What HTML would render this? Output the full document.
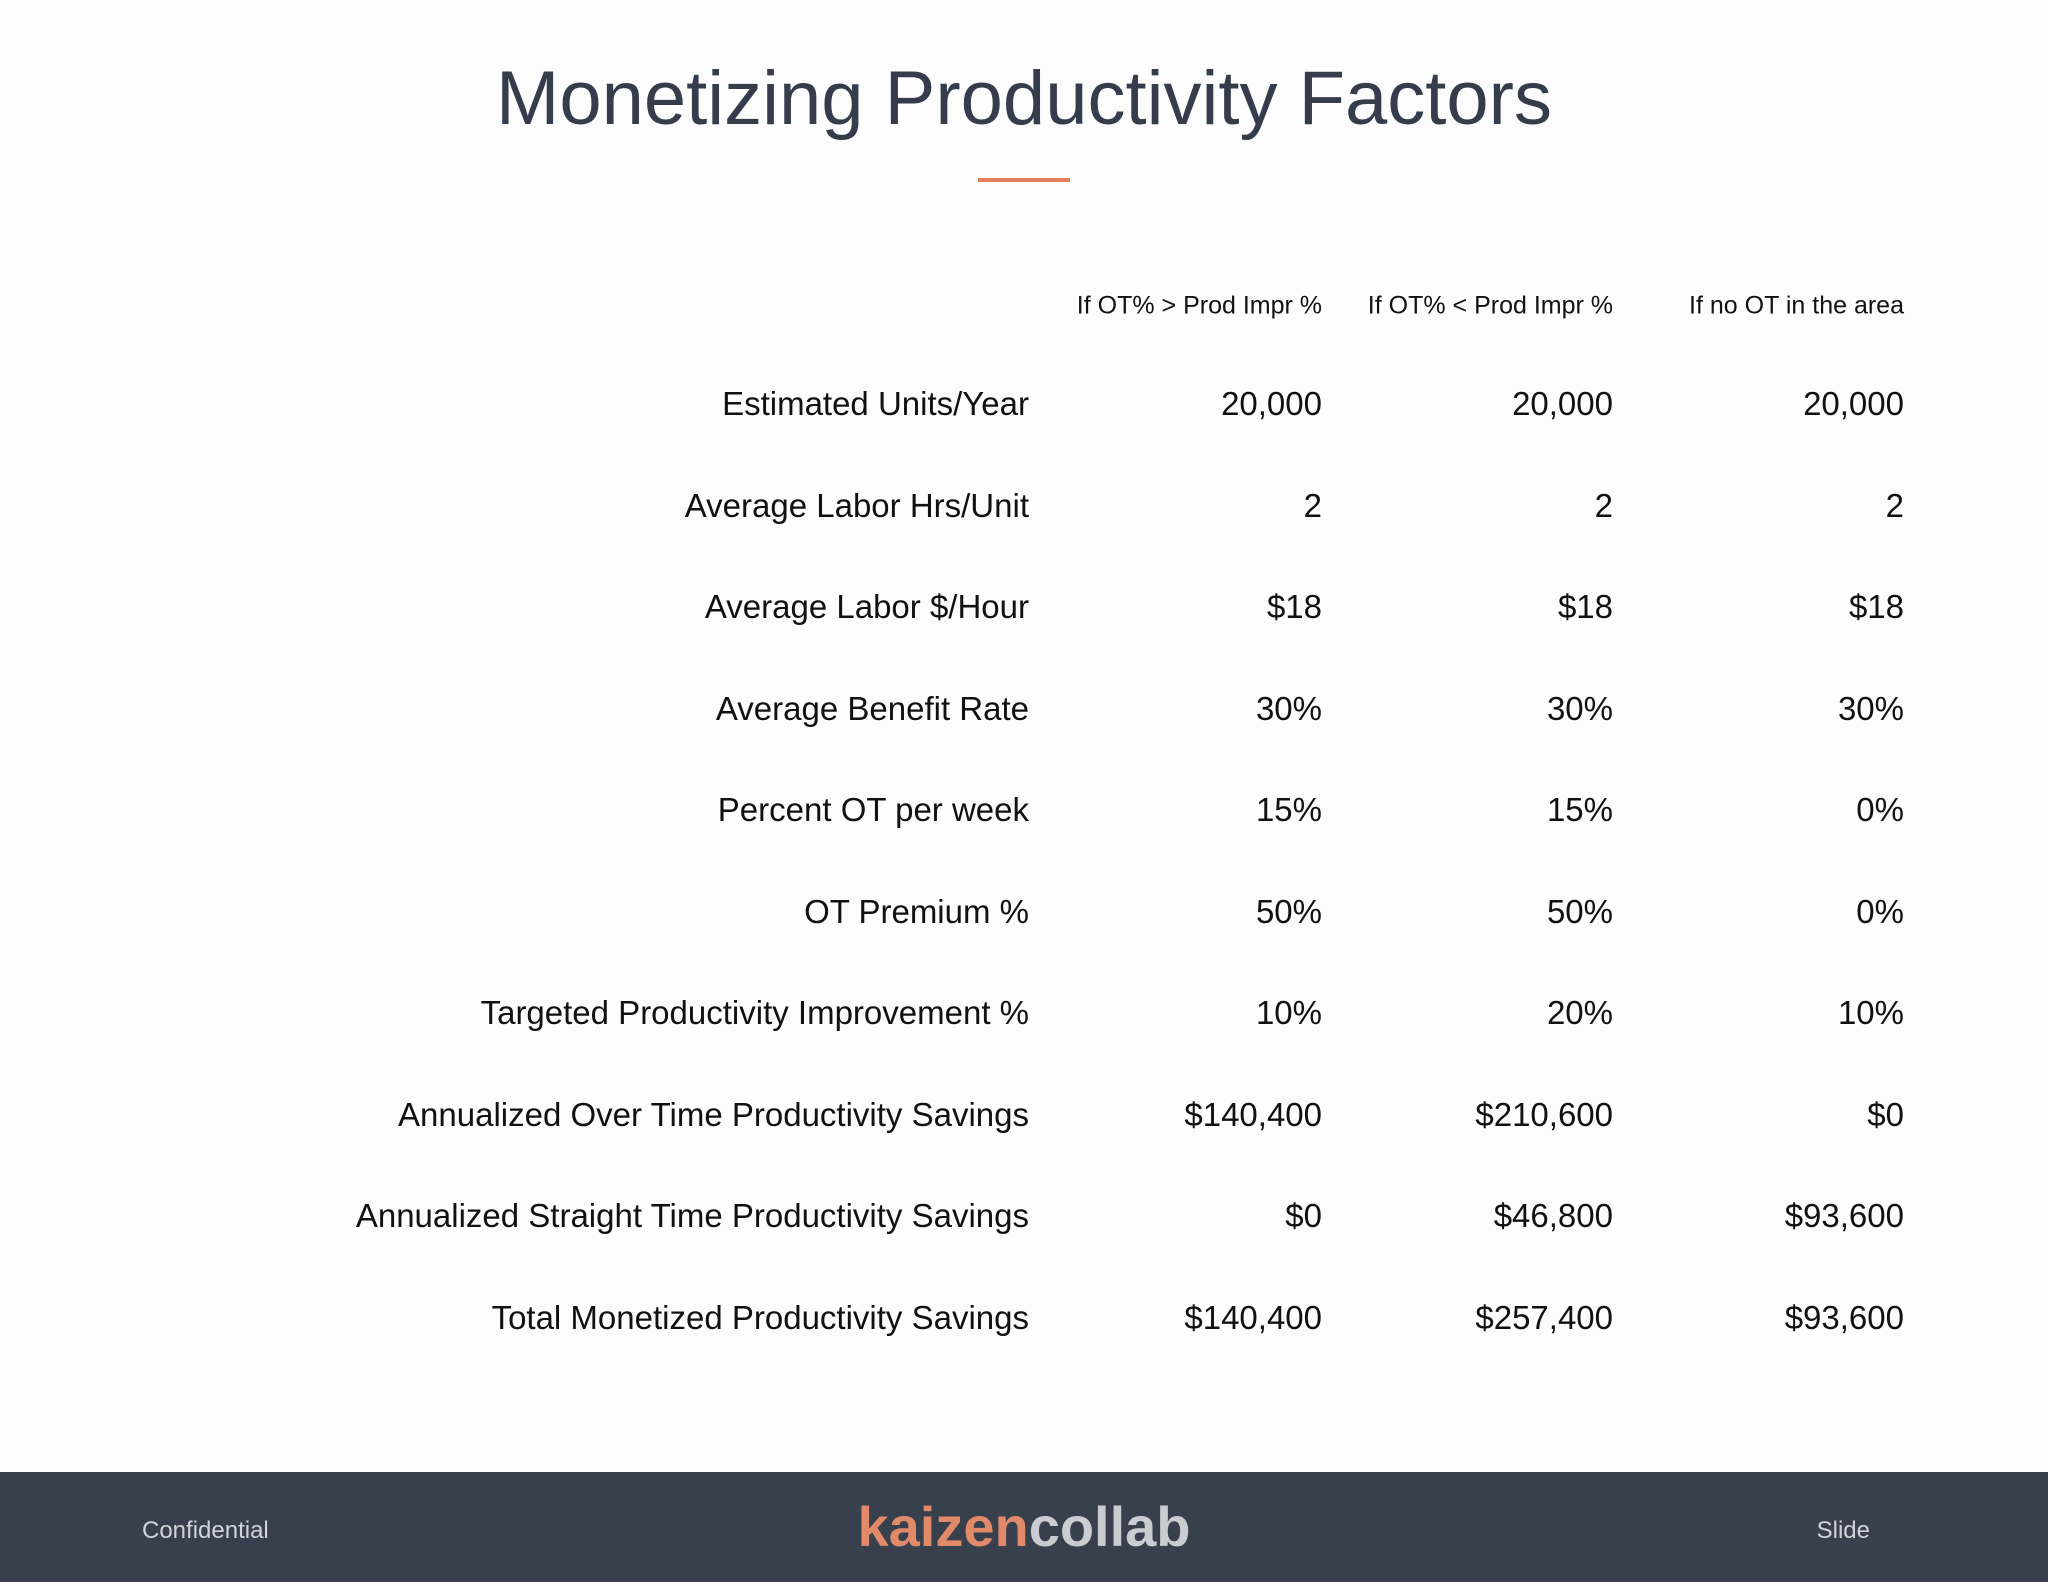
<!DOCTYPE html>
<html><head><meta charset="utf-8"><style>
html,body{margin:0;padding:0}
body{width:2048px;height:1582px;position:relative;background:#fcfcfd;font-family:"Liberation Sans",sans-serif;overflow:hidden;color:#111}
.t{position:absolute;white-space:nowrap}
#title{left:0;width:2048px;text-align:center;top:55px;font-size:76px;color:#353d4c}
#rule{position:absolute;left:978px;top:178px;width:92px;height:4px;background:#e0805f}
.h{font-size:25px;text-align:right;transform:translateY(-50%)}
.r{font-size:33px;text-align:right;transform:translateY(-50%)}
#footer{position:absolute;left:0;top:1472px;width:2048px;height:110px;background:#383f4d}
</style></head><body>
<div class="t" id="title">Monetizing Productivity Factors</div>
<div id="rule"></div>
<div id="table"></div>
<div id="footer">
<div class="t" style="left:142px;top:4px;font-size:24px;color:#d0d3d8;line-height:110px">Confidential</div>
<div class="t" style="left:0;width:2048px;text-align:center;top:0;line-height:110px;font-size:56px;font-weight:bold"><span style="color:#e08a6a">kaizen</span><span style="color:#c9ccd1">collab</span></div>
<div class="t" style="right:178px;top:4px;line-height:110px;font-size:24px;color:#d0d3d8">Slide</div>
</div>
<script>
const headers=["If OT% > Prod Impr %","If OT% < Prod Impr %","If no OT in the area"];
const labels=["Estimated Units/Year","Average Labor Hrs/Unit","Average Labor $/Hour","Average Benefit Rate","Percent OT per week","OT Premium %","Targeted Productivity Improvement %","Annualized Over Time Productivity Savings","Annualized Straight Time Productivity Savings","Total Monetized Productivity Savings"];
const col1=["20,000","2","$18","30%","15%","50%","10%","$140,400","$0","$140,400"];
const col2=["20,000","2","$18","30%","15%","50%","20%","$210,600","$46,800","$257,400"];
const col3=["20,000","2","$18","30%","0%","0%","10%","$0","$93,600","$93,600"];
const colRight=[1322,1613,1904];
const cols=[col1,col2,col3];
const tbl=document.getElementById('table');
function put(txt,cls,right,y){const d=document.createElement('div');d.className='t '+cls;d.textContent=txt;d.style.right=(2048-right)+'px';d.style.top=y+'px';tbl.appendChild(d);return d;}
headers.forEach((h,i)=>{const d=put(h,'h',colRight[i],306);

});
labels.forEach((l,r)=>{const y=404+r*101.5;
const d=put(l,'r',1029,y);


cols.forEach((c,i)=>{const v=put(c[r],'r',colRight[i],y);

});});
</script>
</body></html>
